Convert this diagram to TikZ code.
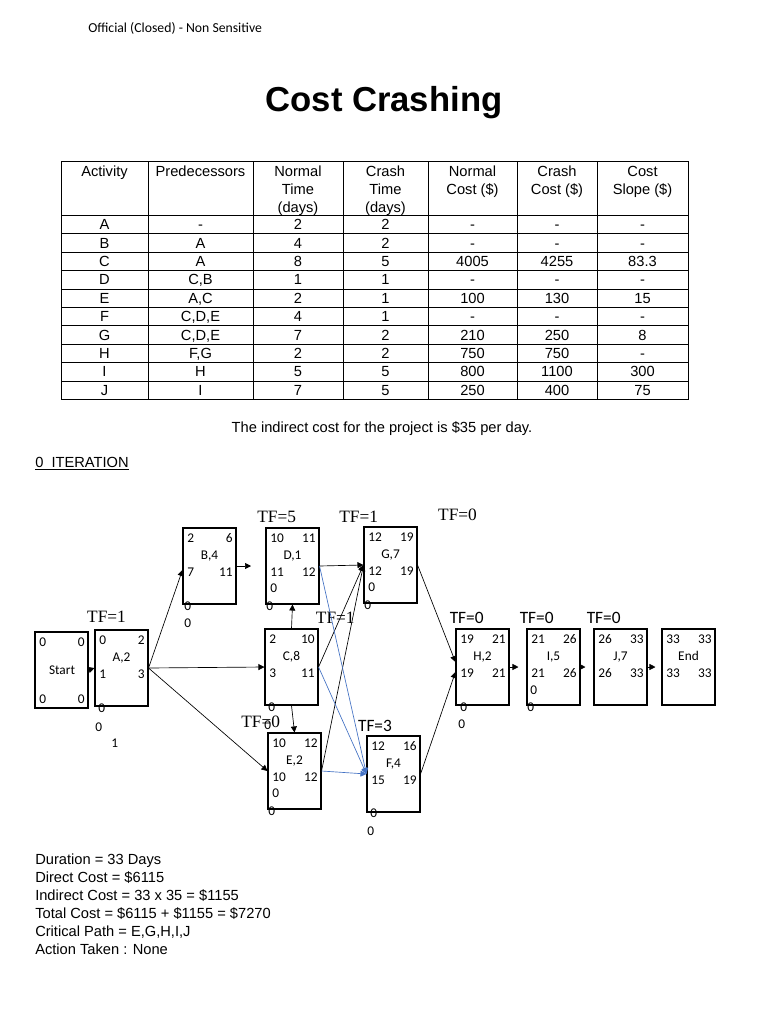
\documentclass[tikz,border=0pt]{standalone}
\usepackage{fontspec}
\setmainfont{Liberation Sans}
\newfontfamily\boxfont{Carlito}
\newfontfamily\tffont{Liberation Serif}
\usetikzlibrary{arrows.meta,calc}

\begin{document}
\begin{tikzpicture}[x=0.75pt,y=-0.75pt,
  actbox/.style={draw,line width=0.8pt,minimum width=39.75pt,minimum height=57pt,inner sep=0pt},
  num/.style={font=\boxfont\fontsize{10}{12}\selectfont,inner sep=0pt,text depth=0pt},
  tflab/.style={font=\tffont\fontsize{13}{15}\selectfont,inner sep=0pt},
  tfsans/.style={font=\boxfont\fontsize{13}{15}\selectfont,inner sep=0pt},
  cell/.style={font=\fontsize{11}{13}\selectfont,inner sep=0pt,anchor=base},
  bodytext/.style={font=\fontsize{11}{13}\selectfont,inner sep=0pt,anchor=base west},
  link/.style={line width=0.5pt,-{Triangle[length=4.5pt,width=4.5pt]}},
  bluelink/.style={link,linkBlue}]
\definecolor{linkBlue}{HTML}{4472C4}
\fill[white] (0,0) rectangle (768,1024);
\useasboundingbox (0,0) rectangle (768,1024);

\node[font=\boxfont\fontsize{10.3}{12}\selectfont,inner sep=0pt,anchor=west] (official) at (88,28) {Official (Closed) - Non Sensitive};
\node[font=\bfseries\fontsize{26}{30}\selectfont,inner sep=0pt,anchor=base] (title) at (384,112) {Cost Crashing};

\draw[line width=0.6pt] (61,161) rectangle (688,399);
\foreach \k in {0,...,9}
  \draw[line width=0.6pt] (61,215.3+18.4*\k) -- (688,215.3+18.4*\k);
\foreach \x in {148,253,343,428,517,597}
  \draw[line width=0.6pt] (\x,161) -- (\x,399);
\foreach \cx/\la/\lb/\lc [count=\c] in {104.5/Activity//,200.5/Predecessors//,298/Normal/Time/(days),
    385.5/Crash/Time/(days),472.5/Normal/Cost (\$)/,557/Crash/Cost (\$)/,642.5/Cost/Slope (\$)/} {
  \node[cell] (head-\c-1) at (\cx,176) {\la};
  \node[cell] (head-\c-2) at (\cx,194) {\lb};
  \node[cell] (head-\c-3) at (\cx,212) {\lc};
}
\foreach \act/\pre/\nt/\ct/\nc/\cc/\cs [count=\i] in {A/-/2/2/-/-/-,B/A/4/2/-/-/-,C/A/8/5/4005/4255/83.3,
    D/{C,B}/1/1/-/-/-,E/{A,C}/2/1/100/130/15,F/{C,D,E}/4/1/-/-/-,G/{C,D,E}/7/2/210/250/8,
    H/{F,G}/2/2/750/750/-,I/H/5/5/800/1100/300,J/I/7/5/250/400/75} {
  \node[cell] (row-\i-1) at (104.5,211.3+18.4*\i) {\act};
  \node[cell] (row-\i-2) at (200.5,211.3+18.4*\i) {\pre};
  \node[cell] (row-\i-3) at (298,211.3+18.4*\i) {\nt};
  \node[cell] (row-\i-4) at (385.5,211.3+18.4*\i) {\ct};
  \node[cell] (row-\i-5) at (472.5,211.3+18.4*\i) {\nc};
  \node[cell] (row-\i-6) at (557,211.3+18.4*\i) {\cc};
  \node[cell] (row-\i-7) at (642.5,211.3+18.4*\i) {\cs};
}

\node[cell] (indirect) at (382,432) {The indirect cost for the project is \$35 per day.};
\node[bodytext] (iteration) at (35,467) {\underline{0~~ITERATION}};

\node[actbox] (start) at (61.5,670) {};
\node[num,anchor=west] (start-es) at (39,642) {0};
\node[num,anchor=east] (start-ef) at (85,642) {0};
\node[num] (start-lab) at (62,670) {Start};
\node[num,anchor=west] (start-ls) at (39,699) {0};
\node[num,anchor=east] (start-lf) at (85,699) {0};
\foreach \nm/\bx/\by/\es/\ef/\lab/\ls/\lf in {A/95/630/0/2/{A,2}/1/3,B/183/528/2/6/{B,4}/7/11,
    D/266/528/10/11/{D,1}/11/12,G/364/527/12/19/{G,7}/12/19,C/265/629/2/10/{C,8}/3/11,
    E/268/733/10/12/{E,2}/10/12,F/367/736/12/16/{F,4}/15/19,H/456/629/19/21/{H,2}/19/21,
    I/527/629/21/26/{I,5}/21/26,J/594/629/26/33/{J,7}/26/33,End/662/629/33/33/End/33/33} {
  \node[actbox] (\nm) at (\bx+26.5,\by+38) {};
  \node[num,anchor=west] (\nm-es) at (\bx+4,\by+10) {\es};
  \node[num,anchor=east] (\nm-ef) at (\bx+50,\by+10) {\ef};
  \node[num] (\nm-lab) at (\bx+26.5,\by+27) {\lab};
  \node[num,anchor=west] (\nm-ls) at (\bx+4,\by+44) {\ls};
  \node[num,anchor=east] (\nm-lf) at (\bx+50,\by+44) {\lf};
}
\foreach \zx/\zy [count=\k] in {98/708,95/727,184/606,184/623,270/588,266/606,368/587,364/605,
    268/707,264/725,272/793,268/811,370/813,367/831,460/707,458/724,530/690,527/707}
  \node[num,anchor=west] (zero-\k) at (\zx,\zy) {0};
\node[num,anchor=west] (A-one) at (111,743) {1};

\node[tflab] (tf-A) at (106.5,617) {TF=1};
\node[tflab] (tf-D) at (276.7,517) {TF=5};
\node[tflab] (tf-G) at (358.7,517) {TF=1};
\node[tflab] (tf-top) at (457.5,515) {TF=0};
\node[tflab] (tf-C) at (335.3,618) {TF=1};
\node[tflab] (tf-E) at (260.7,722) {TF=0};
\node[tfsans] (tf-F) at (375,726) {TF=3};
\node[tfsans] (tf-H) at (466.7,618) {TF=0};
\node[tfsans] (tf-I) at (536.7,618) {TF=0};
\node[tfsans] (tf-J) at (603.7,618) {TF=0};

\coordinate (B-next) at (251,566);
\draw[link] (start.east) -- (A.west);
\draw[link] (A.east) -- ($(B.west)+(0,4)$);
\draw[link] (A.east) -- (C.west);
\draw[link] (A.east) -- (E.west);
\draw[link] (B.east) -- (B-next);
\draw[link] (C.north) -- (D.south);
\draw[link] (C.south) -- (E.north);
\draw[link] (D.east) -- (G.west);
\draw[link] (C.east) -- (G.west);
\draw[link] (E.east) -- (G.west);
\draw[bluelink] (D.east) -- (F.west);
\draw[bluelink] (C.east) -- (F.west);
\draw[bluelink] (E.east) -- (F.west);
\draw[link] (G.east) -- ($(H.west)+(0,-5)$);
\draw[link] (F.east) -- ($(H.west)+(0,5)$);
\draw[link,shorten >=6pt] (H.east) -- (I.west);
\draw[link,shorten >=6pt] (I.east) -- (J.west);
\draw[link,shorten >=4.5pt] (J.east) -- (End.west);

\node[bodytext] (duration) at (35,864) {Duration = 33 Days};
\node[bodytext] (direct) at (35,882) {Direct Cost = \$6115};
\node[bodytext] (indirectcost) at (35,900) {Indirect Cost = 33 x 35 = \$1155};
\node[bodytext] (total) at (35,918) {Total Cost = \$6115 + \$1155 = \$7270};
\node[bodytext] (critical) at (35,936) {Critical Path = E,G,H,I,J};
\node[bodytext] (action) at (35,954) {Action Taken : None};
\end{tikzpicture}
\end{document}
